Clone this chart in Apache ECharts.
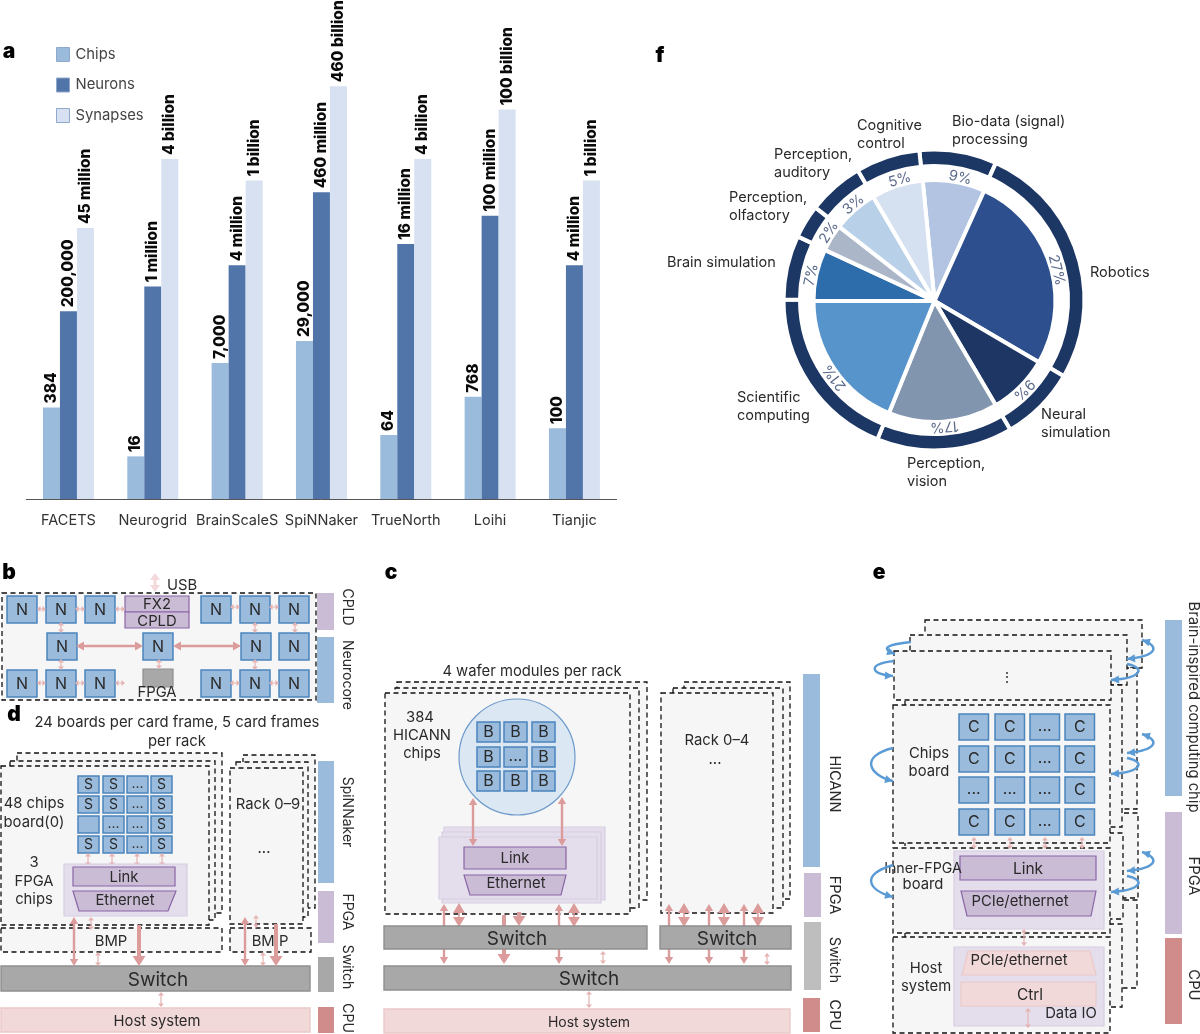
<!DOCTYPE html>
<html><head><meta charset="utf-8">
<style>html,body{margin:0;padding:0;background:#fff}#c{width:1200px;height:1034px}</style>
<script src="https://cdn.jsdelivr.net/npm/echarts@6/dist/echarts.min.js"></script>
</head><body><div id="c"></div>
<script>
// ---- Panel a data
const systems = ['FACETS','Neurogrid','BrainScaleS','SpiNNaker','TrueNorth','Loihi','Tianjic'];
const chips = [384,16,7000,29000,64,768,100];
const neurons = [200000,1e6,4e6,460e6,16e6,100e6,4e6];
const synapses = [45e6,4e9,1e9,460e9,4e9,100e9,1e9];
const chipLabels = ['384','16','7,000','29,000','64','768','100'];
const neuronLabels = ['200,000','1 million','4 million','460 million','16 million','100 million','4 million'];
const synapseLabels = ['45 million','4 billion','1 billion','460 billion','4 billion','100 billion','1 billion'];
// ---- Panel f data (slice shares as drawn; printed percentages as labelled)
const fields = ['Bio-data (signal)\nprocessing','Robotics','Neural\nsimulation','Perception,\nvision','Scientific\ncomputing','Brain simulation','Perception,\nolfactory','Perception,\nauditory','Cognitive\ncontrol'];
const sliceShares = [8.3,26.7,8.1,14.6,18.9,6.9,3.6,6.0,6.9];
const printedPercent = ['9%','27%','9%','17%','21%','7%','2%','3%','5%'];
const sliceColors = ['#B2C4E1','#2D4F8E','#1D3664','#8295AE','#5794CB','#2D6DAB','#ABB7C8','#B8D1E8','#D5E0F1'];
const nameAnchors = [[952,113],[1090,264],[1041,406],[907,455],[737,389],[667,254],[729,189],[774,146],[857,117]];
const percentAngles = [11.8,75.8,134.7,175.5,232.6,282,303,320,344];

const FONT='Inter';
const BLUE='#9BBBDD',BLUEB='#4B85BD',PUR='#CBBCD6',PURB='#8A65A5',PALE='#E4DEEC',PALEB='#D7CCE2',GRAY='#A8A8A8',GRAYB='#8E8E8E',
      PINK='#F2D9D9',PINKB='#EBC8C8',CPU='#CF8C8B',ARW='#DD9C9C',INK='#2a2a2a',SHEET='#F6F6F6',ARC='#5B9BD5';
const G=[];
function rect(x,y,w,h,fill,stroke,lw){G.push({type:'rect',shape:{x,y,width:w,height:h},style:{fill,stroke:stroke||null,lineWidth:lw==null?1.2:lw}});}
function dash(x,y,w,h,fill){G.push({type:'rect',shape:{x,y,width:w,height:h},style:{fill:fill||SHEET,stroke:'#111',lineWidth:1.3,lineDash:[5,3.5]}});}
function txt(t,x,y,size,o){o=o||{};G.push({type:'text',x,y:o.rot?y:y+1,rotation:o.rot||0,style:{text:t,fontSize:size||14.8,fontFamily:FONT,fontWeight:o.w||400,fill:o.c||INK,align:o.a||'center',verticalAlign:'middle'}});}
function poly(pts,fill,stroke,lw){G.push({type:'polygon',shape:{points:pts},style:{fill,stroke:stroke||null,lineWidth:lw==null?1.2:lw}});}
function side(x,y,w,h,fill){rect(x,y,w,h,fill,null,0);}
function vt(t,x,y,size){txt(t,x,y,size||14.3,{rot:-Math.PI/2});}
function arrow(x1,y1,x2,y2,o){o=o||{};const lw=o.lw||1.6,hl=o.hl||5,hw=o.hw||3.5,both=o.both!==false,c=o.c||ARW;
  const L=Math.hypot(x2-x1,y2-y1),ux=(x2-x1)/L,uy=(y2-y1)/L,nx=-uy,ny=ux;
  const p=(d,n)=>[x1+ux*d+nx*n,y1+uy*d+ny*n];const a=[];
  if(both){a.push(p(0,0),p(hl,hw),p(hl,lw/2));}else{a.push(p(0,lw/2));}
  a.push(p(L-hl,lw/2),p(L-hl,hw),p(L,0),p(L-hl,-hw),p(L-hl,-lw/2));
  if(both){a.push(p(hl,-lw/2),p(hl,-hw));}else{a.push(p(0,-lw/2));}
  poly(a,c,null,0);}
const sm=(x1,y1,x2,y2)=>arrow(x1,y1,x2,y2,{lw:1.2,hl:3.5,hw:3,c:'#E6B3B3'});
const md=(x1,y1,x2,y2)=>arrow(x1,y1,x2,y2,{lw:2.4,hl:7,hw:4.2});
const th=(x1,y1,x2,y2)=>arrow(x1,y1,x2,y2,{lw:1.6,hl:10,hw:6});
const one=(x1,y1,x2,y2)=>arrow(x1,y1,x2,y2,{lw:4,hl:10,hw:6.5,both:false});
function arc(x1,y1,cx1,cy1,cx2,cy2,x2,y2,h1){
  G.push({type:'bezierCurve',shape:{x1,y1,x2,y2,cpx1:cx1,cpy1:cy1,cpx2:cx2,cpy2:cy2},style:{fill:null,stroke:ARC,lineWidth:2.4}});
  const head=(px,py,qx,qy)=>{const L=Math.hypot(qx-px,qy-py),ux=(qx-px)/L,uy=(qy-py)/L,n=[-uy,ux];
    poly([[qx,qy],[qx-ux*8+n[0]*4,qy-uy*8+n[1]*4],[qx-ux*8-n[0]*4,qy-uy*8-n[1]*4]],ARC,null,0);};
  head(cx2,cy2,x2,y2); if(h1) head(cx1,cy1,x1,y1);
}
function cell(x,y,w,h,t,size){rect(x,y,w,h,BLUE,BLUEB,1.5);if(t)txt(t,x+w/2,y+h/2+(t==='...'?-1:0)-0.5,size);}
// panel letters
[['a',9,51],['f',660,55],['b',9,572],['c',391,572],['d',14,714],['e',879,572]].forEach(l=>txt(l[0],l[1],l[2],21,{w:900,c:'#000'}));

// ---- Panel b
dash(2,593,314,107);
const bc=[7,46,85,201,240,279];
bc.forEach(x=>{cell(x,596,30,27,'N',16);cell(x,670,30,27,'N',16);});
[47,143,241,279].forEach(x=>cell(x,633,30,27,'N',16));
rect(125,596,64,16,PUR,PURB);rect(125,612,64,16,PUR,PURB);txt('FX2',157,604,14.8);txt('CPLD',157,620.5,14.8);
rect(143,669,30,18,GRAY,GRAYB);txt('FPGA',157,692,14.8);
arrow(155,573,155,592,{lw:3,hl:7,hw:5,c:'#F3D9DC'});txt('USB',167,585,14.8,{a:'left'});
[37,75,115,230,269].forEach(x=>{const w=x===115?10:(x===37?9:10);const yy=x>200?607:609;sm(x,yy,x+w,yy);sm(x,683,x+w,683);});
[[61,622,633],[61,659,670],[255,622,633],[255,659,670],[295,622,633],[159,659,669]].forEach(a=>sm(a[0],a[1],a[0],a[2]));
arrow(76,646,143,646,{lw:2.6,hl:8,hw:4.5});arrow(173,646,241,646,{lw:2.6,hl:8,hw:4.5});
side(317,593,17,37,PUR);side(317,637,17,66,BLUE);vt('CPLD',347,607,14);vt('Neurocore',347,675,14);

// ---- Panel d
txt('24 boards per card frame, 5 card frames',177,722);txt('per rack',177,741);
dash(17,753,205,160);dash(10,761,205,159);dash(1,766,208,159);
const dc=[78,103,127,151],dr=[776,796,816,836];
const dm=[['S','S','...','S'],['S','S','...','S'],['','...','...','S'],['S','S','...','S']];
dr.forEach((y,i)=>dc.forEach((x,j)=>cell(x,y,21,17,dm[i][j],14)));
[88,112,137,162].forEach(x=>sm(x,853,x,866));
rect(64,864,123,52,PALE,PALEB);rect(73,867,102,19,PUR,PURB);txt('Link',124,877);
poly([[73,891],[176,891],[168,911],[79,911]],PUR,PURB);txt('Ethernet',125,900);
txt('48 chips',34,803);txt('board(0)',34,822);txt('3',34,862);txt('FPGA',34,881);txt('chips',34,899);
dash(243,755,72,153);dash(236,762,72,155);dash(230,768,73,156);
txt('Rack 0–9',268,804);txt('...',264,848);
dash(1,928,221,24);dash(230,928,81,24);txt('BMP',111,941);txt('BM P',270,941);
rect(1,966,309,25,GRAY,GRAYB,1.4);txt('Switch',158,979,19);
rect(1,1008,309,24,PINK,PINKB,1.4);txt('Host system',157,1021);
md(74,917,74,966);sm(91,917,91,930);sm(98,952,98,966);one(139,925,139,966);md(245,917,245,966);sm(256,915,256,928);sm(263,952,263,966);one(276,924,276,966);sm(161,992,161,1007);
side(318,761,16,122,BLUE);side(318,891,16,52,PUR);side(318,957,16,35,GRAY);side(318,1007,16,26,CPU);
vt('SpiNNaker',347,812,14);vt('FPGA',347,912,14);vt('Switch',347,967,14);vt('CPU',347,1018,14);

// ---- Panel c
txt('4 wafer modules per rack',532,671);
dash(397,682,250,218);dash(395,688,244,220);dash(385,693,245,221);
txt('384',420,717);txt('HICANN',422,735);txt('chips',422,753);
G.push({type:'circle',shape:{cx:517,cy:757,r:58},style:{fill:'#DCE7F4',stroke:'#6E9BCB',lineWidth:1.2}});
const cc=[477,504,532],cr=[722,747,771],cm=[['B','B','B'],['B','...','B'],['B','B','B']];
cr.forEach((y,i)=>cc.forEach((x,j)=>cell(x,y,23,20,cm[i][j],16)));
rect(444,827,161,73,PALE,PALEB);rect(442,832,159,71,PALE,PALEB);rect(439,837,158,62,PALE,PALEB);
rect(464,847,102,22,PUR,PURB);txt('Link',515,858);
poly([[464,875],[566,875],[561,895],[470,895]],PUR,PURB);txt('Ethernet',516,883);
md(473,798,473,846);md(562,797,562,846);
dash(684,682,106,217);dash(673,688,110,220);dash(661,693,112,220);
txt('Rack 0–4',717,740);txt('...',715,759);
[444,559,669,709,744].forEach(x=>md(x,904,x,964));
[459,574,684,724,758].forEach(x=>th(x,903,x,927));
one(504,915,504,964);one(519,912,519,926);
rect(384,926,263,23,GRAY,GRAYB,1.4);rect(660,926,131,23,GRAY,GRAYB,1.4);txt('Switch',517,938,19);txt('Switch',727,938,19);
rect(384,966,407,24,GRAY,GRAYB,1.4);txt('Switch',589,978,19);
rect(384,1009,406,24,PINK,PINKB,1.4);txt('Host system',589,1022,14);
sm(603,951,603,964);sm(767,953,767,965);sm(589,991,589,1008);
side(803,674,17,193,BLUE);side(804,873,17,44,PUR);side(804,922,17,68,'#BEBEBE');side(803,998,17,34,CPU);
vt('HICANN',834,784,14.6);vt('FPGA',834,895,14.6);vt('Switch',834,960,14.6);vt('CPU',834,1015,14.6);

// ---- Panel e
dash(925,620,217,48);dash(920,668,217,141);dash(920,813,218,85);dash(920,900,217,88);
dash(910,635,217,50);dash(905,685,217,142);dash(905,833,218,86);dash(905,924,217,83);
dash(894,651,217,49);dash(893,705,217,138);dash(893,848,217,85);dash(893,937,217,96);
txt('⋮',1007,677,14);
const ec=[959,995,1030,1065],er=[714,746,777,809];
const em=[['C','C','...','C'],['C','C','...','C'],['...','...','...','C'],['C','C','...','C']];
er.forEach((y,i)=>ec.forEach((x,j)=>cell(x,y,29.5,26,em[i][j],16)));
txt('Chips',929,753);txt('board',929,771);
[974,1010,1045,1082].forEach(x=>sm(x,837,x,849));
rect(954,851,150,78,PALE,PALEB);rect(960,856,136,24,PUR,PURB);txt('Link',1028,868,15.5);
poly([[961,891],[1096,891],[1091,916],[967,916]],PUR,PURB);txt('PCIe/ethernet',1020,901);
txt('Inner-FPGA',923,868,14.2);txt('board',923,884);
rect(954,947,150,79,PALE,PALEB);
poly([[968,951],[1090,951],[1096,975],[962,975]],PINK,PINKB);txt('PCIe/ethernet',1019,960);
rect(961,982,135,24,PINK,PINKB);txt('Ctrl',1030,994,15.5);txt('Data IO',1071,1013);
txt('Host',926,968);txt('system',926,986);
sm(1024,929,1024,946);sm(1028,1008,1028,1028);
arc(911,642,890,644,878,648,895,654,false);
arc(894,661,865,664,872,675,893,676,false);
arc(893,748,860,756,868,775,893,781,false);
arc(893,865,860,875,868,890,893,897,false);
[0,94,212].forEach(d=>{
  const y=v=>v+d;
  arc(1142,y(640),1160,y(646),1158,y(656),1127,y(659),true);
  arc(1127,y(664),1146,y(668),1142,y(678),1111,y(680),false);
});
side(1165,620,17,176,BLUE);side(1165,812,17,122,PUR);side(1165,938,17,86,CPU);
vt('Brain-inspired computing chip',1193,707,14.8);vt('FPGA',1193,876,14.8);vt('CPU',1193,985,14.8);

// ---- Options
const labelOf=a=>({show:true,position:'top',distance:4,rotate:90,align:'left',verticalAlign:'middle',fontFamily:FONT,fontWeight:800,fontSize:15.5,color:'#0a0a0a',formatter:p=>a[p.dataIndex]});
const bar=(name,data,color,labels)=>({name,type:'bar',data,barWidth:17,barGap:0,itemStyle:{color},label:labelOf(labels),silent:true,animation:false});
const CX=934.5,CY=301,START=95.6;
const pieCommon={type:'pie',center:[CX,CY],startAngle:START,clockwise:true,silent:true,animation:false,avoidLabelOverlap:false};
const chart=echarts.init(document.getElementById('c'),null,{renderer:'canvas'});
chart.setOption({
  animation:false,backgroundColor:'#fff',
  textStyle:{fontFamily:FONT},
  legend:{data:['Chips','Neurons','Synapses'],orient:'vertical',left:56,top:47,padding:0,itemWidth:13,itemHeight:14,itemGap:15.5,icon:'rect',
    itemStyle:{borderColor:'#8FA8CC',borderWidth:1},
    textStyle:{fontFamily:FONT,fontSize:14.8,color:'#444',padding:[0,0,0,1]}},
  grid:{left:26.3,width:590.3,top:3.4,bottom:535},
  xAxis:{type:'category',data:systems,axisTick:{show:false},axisLine:{lineStyle:{color:'#555',width:1}},
    axisLabel:{interval:0,margin:14,fontFamily:FONT,fontSize:14.5,color:'#333'}},
  yAxis:{type:'log',min:1,max:1e14,logBase:10,show:false,splitLine:{show:false}},
  series:[
    bar('Chips',chips,'#9BBBDD',chipLabels),
    bar('Neurons',neurons,'#5174A9',neuronLabels),
    bar('Synapses',synapses,'#D7E1F1',synapseLabels),
    Object.assign({},pieCommon,{radius:[0,121],itemStyle:{borderColor:'#fff',borderWidth:4},label:{show:false},labelLine:{show:false},
      data:fields.map((n,i)=>({name:n,value:sliceShares[i],itemStyle:{color:sliceColors[i]}}))}),
    Object.assign({},pieCommon,{center:[934,300],radius:[134,150.5],itemStyle:{color:'#1D3765',borderColor:'#fff',borderWidth:4},labelLine:{show:false},
      label:{show:true,position:'outside',formatter:'{b}',fontFamily:FONT,fontSize:14.5,lineHeight:18,color:'#2a2a2a',align:'left'},
      labelLayout:p=>({x:nameAnchors[p.dataIndex][0],y:nameAnchors[p.dataIndex][1],align:'left',verticalAlign:'top',hideOverlap:false}),
      data:fields.map((n,i)=>({name:n,value:sliceShares[i]}))}),
    Object.assign({},pieCommon,{radius:[119,135],itemStyle:{color:'rgba(0,0,0,0)'},labelLine:{show:false},
      label:{show:true,position:'inside',formatter:'{b}',fontFamily:FONT,fontSize:14.5,color:'#5D6C8C'},
      labelLayout:p=>{const a=percentAngles[p.dataIndex]*Math.PI/180;
        return {x:CX+126*Math.sin(a),y:CY-126*Math.cos(a),align:'center',verticalAlign:'middle',rotate:-percentAngles[p.dataIndex]};},
      data:fields.map((n,i)=>({name:printedPercent[i],value:sliceShares[i]}))})
  ],
  graphic:{elements:G}
});
</script></body></html>
